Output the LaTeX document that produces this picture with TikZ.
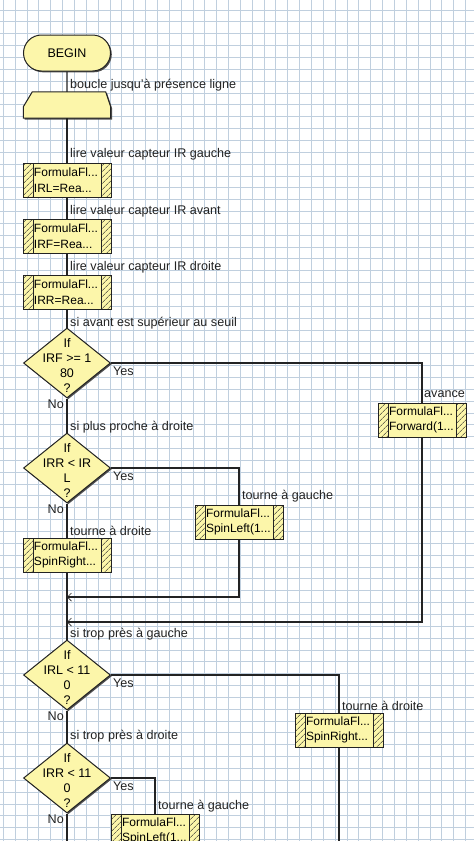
\documentclass[tikz,border=0pt]{standalone}
\usepackage{fontspec}
\setmainfont{Liberation Sans}
\usetikzlibrary{shapes.geometric,shapes.misc,patterns.meta,arrows.meta,positioning}

\definecolor{fcyellow}{RGB}{252,246,170}
\definecolor{fcgrid}{RGB}{192,207,222}
\definecolor{fcline}{RGB}{35,35,35}

\tikzset{
  gridline/.style={fcgrid, line width=0.8pt},
  flow/.style={draw=fcline, line width=1.3pt},
  arrowin/.style={flow, -{Straight Barb[length=4pt,width=8pt,line width=0.7pt]}},
  shadowed/.style={preaction={fill=fcline!80, transform canvas={xshift=1.3pt,yshift=-1.3pt}}},
  terminal/.style={rounded rectangle, draw=fcline, line width=1pt, fill=fcyellow, shadowed,
    minimum width=87pt, minimum height=36pt, inner sep=0pt, font=\fontsize{12.5}{14}\selectfont},
  loopbox/.style={minimum width=87pt, minimum height=26pt, inner sep=0pt},
  calcbox/.style={rectangle, draw=fcline, line width=1pt, fill=fcyellow, shadowed,
    minimum width=88pt, minimum height=34pt, inner sep=0pt, text width=66pt, align=left,
    font=\fontsize{12}{15.5}\selectfont,
    path picture={
      \fill[pattern={Lines[angle=45,distance=4pt,line width=0.6pt]}, pattern color=fcline]
        (path picture bounding box.north west) rectangle ([xshift=10pt]path picture bounding box.south west);
      \fill[pattern={Lines[angle=45,distance=4pt,line width=0.6pt]}, pattern color=fcline]
        (path picture bounding box.north east) rectangle ([xshift=-10pt]path picture bounding box.south east);
      \draw[fcline, line width=0.8pt]
        ([xshift=10pt]path picture bounding box.north west) -- ([xshift=10pt]path picture bounding box.south west)
        ([xshift=-10pt]path picture bounding box.north east) -- ([xshift=-10pt]path picture bounding box.south east);
    }},
  decision/.style={diamond, draw=fcline, line width=1pt, fill=fcyellow, shadowed,
    minimum width=87pt, minimum height=70pt, inner sep=0pt},
  dtext/.style={align=center, inner sep=0pt, font=\fontsize{12.5}{15}\selectfont},
  lbl/.style={inner sep=0pt, anchor=west, font=\fontsize{12.6}{14}\selectfont, text=fcline}
}

\begin{document}
\begin{tikzpicture}[x=1pt, y=-1pt]
  \useasboundingbox (0,0) rectangle (474,841);
  \clip (0,0) rectangle (474,841);
  \fill[white] (0,0) rectangle (474,841);

  % grid
  \foreach \gx in {0,...,40}
    \draw[gridline] ({3.3+11.85*\gx},0) -- ({3.3+11.85*\gx},841);
  \foreach \gy in {0,...,71}
    \draw[gridline] (0,{10+11.85*\gy}) -- (474,{10+11.85*\gy});

  % main column
  \node[terminal] (begin) at (67,53) {BEGIN};
  \node[loopbox] (loop) at (67,105) {};
  \draw[line width=1pt, draw=fcline, fill=fcyellow, shadowed]
    ([xshift=9pt]loop.north west) -- ([xshift=-5pt]loop.north east)
    -- ([yshift=-15pt]loop.north east) -- (loop.south east) -- (loop.south west)
    -- ([yshift=-15pt]loop.north west) -- cycle;
  \node[calcbox] (irl) at (67,180) {FormulaFl...\\IRL=Rea...};
  \node[calcbox] (irf) at (67,236) {FormulaFl...\\IRF=Rea...};
  \node[calcbox] (irr) at (67,292) {FormulaFl...\\IRR=Rea...};
  \node[decision] (d1) at (67,363) {};
  \node[dtext] at ([yshift=-2pt]d1.center) {If\\IRF >= 1\\80\\?};
  \node[decision] (d2) at (67,468) {};
  \node[dtext] at ([yshift=-2pt]d2.center) {If\\IRR < IR\\L\\?};
  \node[calcbox] (spinr) at (67,555) {FormulaFl...\\SpinRight...};
  \node[decision] (d3) at (67,675) {};
  \node[dtext] at ([yshift=-2pt]d3.center) {If\\IRL < 11\\0\\?};
  \node[decision] (d4) at (67,778) {};
  \node[dtext] at ([yshift=-2pt]d4.center) {If\\IRR < 11\\0\\?};

  % side branches
  \node[calcbox] (fwd) at (422,420) {FormulaFl...\\Forward(1...};
  \node[calcbox] (spinl) at (239,522) {FormulaFl...\\SpinLeft(1...};
  \node[calcbox] (spinr2) at (339,730) {FormulaFl...\\SpinRight...};
  \node[calcbox] (spinl2) at (155,831) {FormulaFl...\\SpinLeft(1...};

  \coordinate (join1) at (67,622);
  \coordinate (join2) at (67,597);
  \coordinate (exit1) at (339,860);
  \coordinate (exit2) at (67,860);

  % connectors
  \draw[flow] (begin) -- (loop);
  \draw[flow] (loop) -- (irl);
  \draw[flow] (irl) -- (irf);
  \draw[flow] (irf) -- (irr);
  \draw[flow] (irr) -- (d1);
  \draw[flow] (d1.east) -| (fwd.north);
  \draw[arrowin] (fwd.south) |- (join1);
  \draw[flow] (d1.south) -- (d2.north);
  \draw[flow] (d2.east) -| (spinl.north);
  \draw[arrowin] (spinl.south) |- (join2);
  \draw[flow] (d2.south) -- (spinr.north);
  \draw[flow] (spinr.south) -- (d3.north);
  \draw[flow] (d3.east) -| (spinr2.north);
  \draw[flow] (spinr2.south) -- (exit1);
  \draw[flow] (d3.south) -- (d4.north);
  \draw[flow] (d4.east) -| (spinl2.north);
  \draw[flow] (d4.south) -- (exit2);

  % labels
  \node[lbl] (t0) at ([xshift=3pt,yshift=7pt]loop.north) {boucle jusqu'à présence ligne};
  \node[lbl] (t1) at ([xshift=3pt,yshift=8pt]irl.north) {lire valeur capteur IR gauche};
  \node[lbl] (t2) at ([xshift=3pt,yshift=7pt]irf.north) {lire valeur capteur IR avant};
  \node[lbl] (t3) at ([xshift=3pt,yshift=7pt]irr.north) {lire valeur capteur IR droite};
  \node[lbl] (t4) at ([xshift=3pt,yshift=4pt]d1.north) {si avant est supérieur au seuil};
  \node[lbl] (t5) at ([xshift=3pt,yshift=5pt]d2.north) {si plus proche à droite};
  \node[lbl] (t6) at ([xshift=3pt,yshift=7pt]spinr.north) {tourne à droite};
  \node[lbl] (t7) at ([xshift=3pt,yshift=5pt]d3.north) {si trop près à gauche};
  \node[lbl] (t8) at ([xshift=3pt,yshift=6pt]d4.north) {si trop près à droite};
  \node[lbl] (t9) at ([xshift=2pt,yshift=8pt]fwd.north) {avance};
  \node[lbl] (t10) at ([xshift=3pt,yshift=8pt]spinl.north) {tourne à gauche};
  \node[lbl] (t11) at ([xshift=3pt,yshift=7pt]spinr2.north) {tourne à droite};
  \node[lbl] (t12) at ([xshift=3pt,yshift=7pt]spinl2.north) {tourne à gauche};

  \foreach \d in {d1,d2,d3,d4} {
    \node[lbl, anchor=north west] at ([xshift=2pt,yshift=-4pt]\d.east) {Yes};
    \node[lbl, anchor=north east] at ([xshift=-3pt,yshift=-1pt]\d.south) {No};
  }
\end{tikzpicture}
\end{document}
